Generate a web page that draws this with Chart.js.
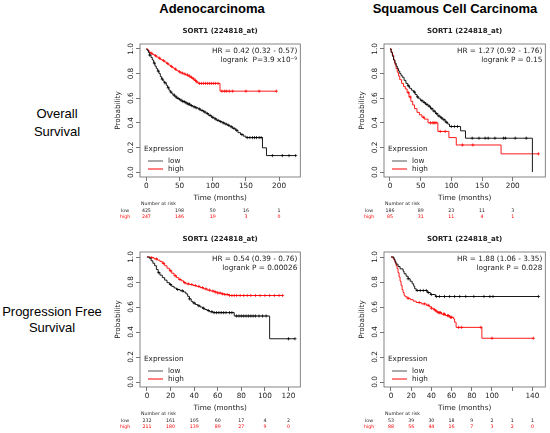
<!DOCTYPE html>
<html>
<head>
<meta charset="utf-8">
<script src="https://cdn.jsdelivr.net/npm/chart.js@4.4.1/dist/chart.umd.min.js"></script>
<style>
  body { margin: 0; background: #fff; width: 550px; height: 433px; position: relative; overflow: hidden;
         font-family: "Liberation Sans", Arial, sans-serif; color: #000; }
  .col { position: absolute; font-weight: bold; font-size: 13px; line-height: 16px; text-align: center; }
  .row { position: absolute; font-size: 13px; text-align: center; }
  canvas { position: absolute; }
</style>
</head>
<body>
<div class="col" style="left:112px;top:1px;width:200px">Adenocarcinoma</div>
<div class="col" style="left:355px;top:1px;width:200px">Squamous Cell Carcinoma</div>
<div class="row" style="left:0;top:105px;width:114px;line-height:18px">Overall<br>Survival</div>
<div class="row" style="left:0;top:304px;width:104px;line-height:16px">Progression Free<br>Survival</div>

<canvas id="osAdeno" width="205" height="207" style="left:100px;top:20px"></canvas>
<canvas id="osScc" width="206" height="207" style="left:344px;top:20px"></canvas>
<canvas id="pfsAdeno" width="205" height="209" style="left:100px;top:228px"></canvas>
<canvas id="pfsScc" width="206" height="209" style="left:344px;top:228px"></canvas>

<script>
// ---- data: [months, survival] after each drop ----
const yTicks = [0, 0.2, 0.4, 0.6, 0.8, 1.0]

// Overall survival, adenocarcinoma
const osAdenoTicks = [0, 50, 100, 150, 200]
const osAdenoTickLabels = ['0', '50', '100', '150', '200']
const osAdenoLow = [[0,1],[1,0.99],[3,0.97],[5,0.95],[7,0.93],[9,0.91],[11,0.885],[13,0.86],[15,0.84],[17,0.82],
  [19,0.8],[21,0.775],[23,0.755],[25,0.74],[27,0.725],[30,0.705],[32,0.685],[34,0.665],[36,0.65],[38,0.64],
  [40,0.625],[43,0.61],[46,0.598],[50,0.585],[54,0.573],[58,0.562],[62,0.552],[66,0.54],[70,0.53],[74,0.522],
  [78,0.512],[82,0.5],[86,0.488],[90,0.475],[94,0.46],[98,0.445],[102,0.432],[106,0.42],[110,0.41],[114,0.4],
  [118,0.39],[122,0.38],[126,0.368],[130,0.355],[134,0.34],[138,0.32],[142,0.305],[146,0.292],[150,0.28],
  [175,0.197],[181,0.134],[225,0.134]]
const osAdenoLowCensor = [5,12,18,24,28,33,37,42,45,48,52,55,57,60,63,65,68,72,75,80,84,88,92,96,100,104,108,
  112,116,120,124,128,132,136,144,152,156,160,163,166,170,173,190,205,215,225]
const osAdenoHigh = [[0,1],[2,0.99],[4,0.975],[6,0.965],[9,0.955],[12,0.945],[15,0.935],[18,0.925],[21,0.915],
  [24,0.905],[27,0.895],[30,0.882],[33,0.87],[36,0.858],[39,0.847],[42,0.836],[45,0.826],[48,0.815],[51,0.805],
  [55,0.797],[59,0.789],[63,0.78],[66,0.77],[69,0.758],[72,0.745],[75,0.732],[78,0.72],[111,0.657],[196,0.657]]
const osAdenoHighCensor = [8,14,20,26,32,38,44,50,54,58,62,65,68,71,74,76,80,83,86,89,92,95,98,101,104,108,
  114,118,121,125,130,150,170,196]
const osAdenoRiskLow = [425, 198, 50, 16, 1]
const osAdenoRiskHigh = [247, 146, 19, 3, 0]

// Overall survival, squamous cell carcinoma
const osSccTicks = [0, 50, 100, 150, 200]
const osSccTickLabels = ['0', '50', '100', '150', '200']
const osSccLow = [[0,1],[2,0.97],[4,0.94],[6,0.91],[8,0.885],[10,0.86],[12,0.84],[14,0.82],[16,0.8],[18,0.785],
  [20,0.77],[23,0.745],[26,0.72],[29,0.7],[32,0.68],[35,0.665],[38,0.65],[41,0.63],[44,0.61],[47,0.595],
  [50,0.58],[54,0.565],[58,0.55],[62,0.535],[66,0.515],[70,0.495],[74,0.475],[78,0.455],[82,0.44],[86,0.425],
  [90,0.405],[94,0.39],[97,0.37],[115,0.335],[123,0.275],[232,0]]
const osSccLowCensor = [30,40,45,52,56,60,64,68,72,76,80,84,88,92,100,105,110,134,145,155,160,171,185,188,204,222]
const osSccHigh = [[0,1],[2,0.975],[4,0.95],[6,0.91],[8,0.875],[10,0.84],[12,0.81],[14,0.78],[16,0.75],[19,0.72],
  [22,0.695],[25,0.675],[28,0.645],[31,0.61],[34,0.575],[37,0.545],[40,0.515],[44,0.485],[48,0.465],[52,0.445],
  [56,0.43],[62,0.4],[78,0.33],[96,0.28],[108,0.22],[181,0.148],[242,0.148]]
const osSccHighCensor = [30,33,55,66,70,72,75,82,90,118,135,242]
const osSccRiskLow = [186, 89, 23, 11, 3]
const osSccRiskHigh = [85, 31, 11, 4, 1]

// Progression free survival, adenocarcinoma
const pfsAdenoTicks = [0, 20, 40, 60, 80, 100, 120]
const pfsAdenoTickLabels = ['0', '20', '40', '60', '80', '100', '120']
const pfsAdenoLow = [[0,1],[2,0.99],[3.5,0.97],[5,0.95],[6.5,0.93],[8,0.9],[9.5,0.875],[11,0.855],[13,0.835],
  [15,0.815],[17,0.795],[19,0.78],[21,0.765],[23,0.752],[25,0.74],[28,0.73],[31,0.72],[33,0.705],[34.5,0.685],
  [36,0.665],[37.5,0.645],[39,0.632],[41,0.62],[43,0.61],[45,0.6],[47,0.59],[49,0.58],[51,0.572],[53,0.562],
  [56,0.555],[74,0.528],[104,0.346],[125.5,0.346]]
const pfsAdenoLowCensor = [10,20,26,30,36,40,44,48,52,55,57,59,61,63,65,67,70,72,76,78,80,82,84,86,88,90,92,
  95,98,101,120,125.5]
const pfsAdenoHigh = [[0,1],[3,0.995],[6,0.985],[9,0.975],[11,0.965],[13,0.95],[15,0.93],[17,0.91],[19,0.89],
  [21,0.87],[23,0.85],[25,0.835],[27,0.82],[29,0.81],[31,0.795],[33,0.785],[36,0.78],[39,0.772],[42,0.765],
  [45,0.755],[48,0.745],[51,0.735],[54,0.728],[57,0.72],[60,0.712],[63,0.705],[66,0.7],[70,0.692],[115,0.692]]
const pfsAdenoHighCensor = [4,8,14,20,24,28,32,35,38,41,44,47,50,53,56,58,60,62,64,66,68,70,72,74,76,79,82,
  85,88,92,96,100,104,108,112,115]
const pfsAdenoRiskLow = [232, 161, 105, 60, 17, 4, 2]
const pfsAdenoRiskHigh = [211, 180, 139, 89, 27, 9, 0]

// Progression free survival, squamous cell carcinoma
const pfsSccTicks = [0, 20, 40, 60, 80, 100, 120, 140]
const pfsSccTickLabels = ['0', '20', '40', '60', '80', '100', '', '140']
const pfsSccLow = [[0,1],[3,0.981],[4,0.962],[5,0.943],[7,0.924],[9,0.905],[12,0.886],[13,0.866],[15,0.846],
  [17,0.826],[19,0.806],[21,0.786],[22.5,0.766],[23.5,0.746],[25,0.732],[36,0.716],[39,0.7],[44,0.684],[146,0.684]]
const pfsSccLowCensor = [17,26,29,32,35,37,40,45,48,53,58,63,68,74,82,92,98,101,146]
const pfsSccHigh = [[0,1],[2,0.989],[3,0.977],[4,0.955],[5,0.932],[6,0.909],[7,0.875],[8,0.841],[9,0.807],
  [10,0.773],[11,0.739],[12,0.716],[13,0.693],[14,0.682],[16,0.67],[19,0.659],[22,0.647],[25,0.636],[30,0.625],
  [35,0.614],[38,0.602],[40,0.59],[42,0.579],[44,0.567],[46,0.555],[50,0.543],[54,0.531],[58,0.518],[62,0.505],
  [63,0.478],[64.5,0.437],[90,0.35],[141,0.35]]
const pfsSccHighCensor = [17,28,33,37,40,43,45,47,48,49,52,53,56,57,59,60,67,70,89,100,141]
const pfsSccRiskLow = [53, 39, 30, 18, 9, 2, 1, 1]
const pfsSccRiskHigh = [88, 56, 44, 16, 7, 3, 2, 0]

const FONT = '"DejaVu Sans", sans-serif'
const RED = '#ff0000'

// survival value of a step curve at time t (for placing censor marks)
function survAt(curve, t) {
  let s = 1
  for (const [ti, si] of curve) if (ti <= t) s = si
  return s
}

const panelText = {
  id: 'panelText',
  afterDraw(chart, args, o) {
    const { ctx, chartArea: a, scales: { x, y } } = chart
    ctx.save()
    ctx.strokeStyle = '#666'
    ctx.lineWidth = 0.8
    ctx.strokeRect(a.left, a.top, a.right - a.left, a.bottom - a.top)

    ctx.fillStyle = '#222'
    ctx.textBaseline = 'middle'
    ctx.textAlign = 'center'
    ctx.font = 'bold 7px ' + FONT
    ctx.fillText('SORT1 (224818_at)', (a.left + a.right) / 2, a.top - 12.5)

    ctx.font = '7.3px ' + FONT
    yTicks.forEach(v => {
      ctx.save()
      ctx.translate(a.left - 9, y.getPixelForValue(v))
      ctx.rotate(-Math.PI / 2)
      ctx.fillText(v.toFixed(1), 0, 0)
      ctx.restore()
    })
    ctx.save()
    ctx.translate(a.left - 22, (a.top + a.bottom) / 2)
    ctx.rotate(-Math.PI / 2)
    ctx.fillText('Probability', 0, 0)
    ctx.restore()

    ctx.textAlign = 'right'
    ctx.fillText(o.hr, a.right - 3, a.top + 7)
    ctx.fillText(o.logrank, a.right - 3, a.top + 16)

    // legend
    ctx.textAlign = 'left'
    ctx.fillText('Expression', a.left + 4, a.bottom - 28)
    ctx.fillText('low', a.left + 28, a.bottom - 16)
    ctx.fillText('high', a.left + 28, a.bottom - 8)
    ctx.lineWidth = 1
    ctx.strokeStyle = '#555'
    ctx.beginPath(); ctx.moveTo(a.left + 8, a.bottom - 16); ctx.lineTo(a.left + 23, a.bottom - 16); ctx.stroke()
    ctx.strokeStyle = RED
    ctx.beginPath(); ctx.moveTo(a.left + 8, a.bottom - 8); ctx.lineTo(a.left + 23, a.bottom - 8); ctx.stroke()

    // number at risk table
    ctx.font = '4.7px ' + FONT
    ctx.fillStyle = '#222'
    ctx.fillText('Number at risk', a.left + 1, a.bottom + 27)
    ctx.textAlign = 'center'
    ctx.fillText('low', a.left - 15, a.bottom + 34)
    o.ticks.forEach((t, i) => ctx.fillText(String(o.riskLow[i]), x.getPixelForValue(t), a.bottom + 34))
    ctx.fillStyle = RED
    ctx.fillText('high', a.left - 15, a.bottom + 40)
    o.ticks.forEach((t, i) => ctx.fillText(String(o.riskHigh[i]), x.getPixelForValue(t), a.bottom + 40))
    ctx.restore()
  }
}

function makePanel(id, p) {
  const curveSet = (curve, color) => ({
    data: curve.map(([t, s]) => ({ x: t, y: s })),
    showLine: true, stepped: true, borderColor: color, borderWidth: 0.9, pointRadius: 0, fill: false
  })
  const censorSet = (curve, times, color) => ({
    data: times.map(t => ({ x: t, y: survAt(curve, t) })),
    showLine: false, pointStyle: 'cross', pointRadius: 1.6, borderColor: color, borderWidth: 0.7
  })
  const boxH = p.boxH
  const canvas = document.getElementById(id)
  new Chart(canvas, {
    type: 'scatter',
    data: {
      datasets: [
        curveSet(p.low, '#000'),
        curveSet(p.high, RED),
        censorSet(p.low, p.lowCensor, '#000'),
        censorSet(p.high, p.highCensor, RED)
      ]
    },
    options: {
      responsive: false,
      animation: false,
      layout: { padding: { left: 0, top: 24, right: 3, bottom: canvas.height - 24 - boxH - 30 } },
      plugins: {
        legend: { display: false },
        tooltip: { enabled: false },
        panelText: { hr: p.hr, logrank: p.logrank, ticks: p.ticks, riskLow: p.riskLow, riskHigh: p.riskHigh }
      },
      scales: {
        x: {
          type: 'linear', min: p.xMin, max: p.xMax,
          afterBuildTicks: s => { s.ticks = p.ticks.map(v => ({ value: v })) },
          afterFit: s => { s.height = 30 },
          grid: { display: true, drawOnChartArea: false, drawTicks: true, tickLength: 4, color: '#555', lineWidth: 0.8 },
          border: { display: false },
          ticks: {
            autoSkip: false, maxRotation: 0, padding: 1, color: '#222',
            font: { family: FONT, size: 7.3 },
            callback: (v, i) => p.tickLabels[i]
          },
          title: {
            display: true, text: 'Time (months)', color: '#222',
            font: { family: FONT, size: 7.3 }, padding: { top: 0, bottom: 4.6 }
          }
        },
        y: {
          type: 'linear', min: -0.04, max: 1.04,
          afterBuildTicks: s => { s.ticks = yTicks.map(v => ({ value: v })) },
          afterFit: s => { s.width = 40 },
          grid: { display: true, drawOnChartArea: false, drawTicks: true, tickLength: 4, color: '#555', lineWidth: 0.8 },
          border: { display: false },
          ticks: { display: false }
        }
      }
    },
    plugins: [panelText]
  })
}

makePanel('osAdeno', {
  low: osAdenoLow, high: osAdenoHigh, lowCensor: osAdenoLowCensor, highCensor: osAdenoHighCensor,
  ticks: osAdenoTicks, tickLabels: osAdenoTickLabels, riskLow: osAdenoRiskLow, riskHigh: osAdenoRiskHigh,
  xMin: -9.6, xMax: 232, boxH: 133,
  hr: 'HR = 0.42 (0.32 - 0.57)', logrank: 'logrank  P=3.9 x10\u207B\u2079'
})
makePanel('osScc', {
  low: osSccLow, high: osSccHigh, lowCensor: osSccLowCensor, highCensor: osSccHighCensor,
  ticks: osSccTicks, tickLabels: osSccTickLabels, riskLow: osSccRiskLow, riskHigh: osSccRiskHigh,
  xMin: -9.7, xMax: 253, boxH: 133,
  hr: 'HR = 1.27 (0.92 - 1.76)', logrank: 'logrank P = 0.15'
})
makePanel('pfsAdeno', {
  low: pfsAdenoLow, high: pfsAdenoHigh, lowCensor: pfsAdenoLowCensor, highCensor: pfsAdenoHighCensor,
  ticks: pfsAdenoTicks, tickLabels: pfsAdenoTickLabels, riskLow: pfsAdenoRiskLow, riskHigh: pfsAdenoRiskHigh,
  xMin: -5.9, xMax: 130, boxH: 135,
  hr: 'HR = 0.54 (0.39 - 0.76)', logrank: 'logrank P = 0.00026'
})
makePanel('pfsScc', {
  low: pfsSccLow, high: pfsSccHigh, lowCensor: pfsSccLowCensor, highCensor: pfsSccHighCensor,
  ticks: pfsSccTicks, tickLabels: pfsSccTickLabels, riskLow: pfsSccRiskLow, riskHigh: pfsSccRiskHigh,
  xMin: -6.9, xMax: 152.8, boxH: 135,
  hr: 'HR = 1.88 (1.06 - 3.35)', logrank: 'logrank P = 0.028'
})
</script>
</body>
</html>
